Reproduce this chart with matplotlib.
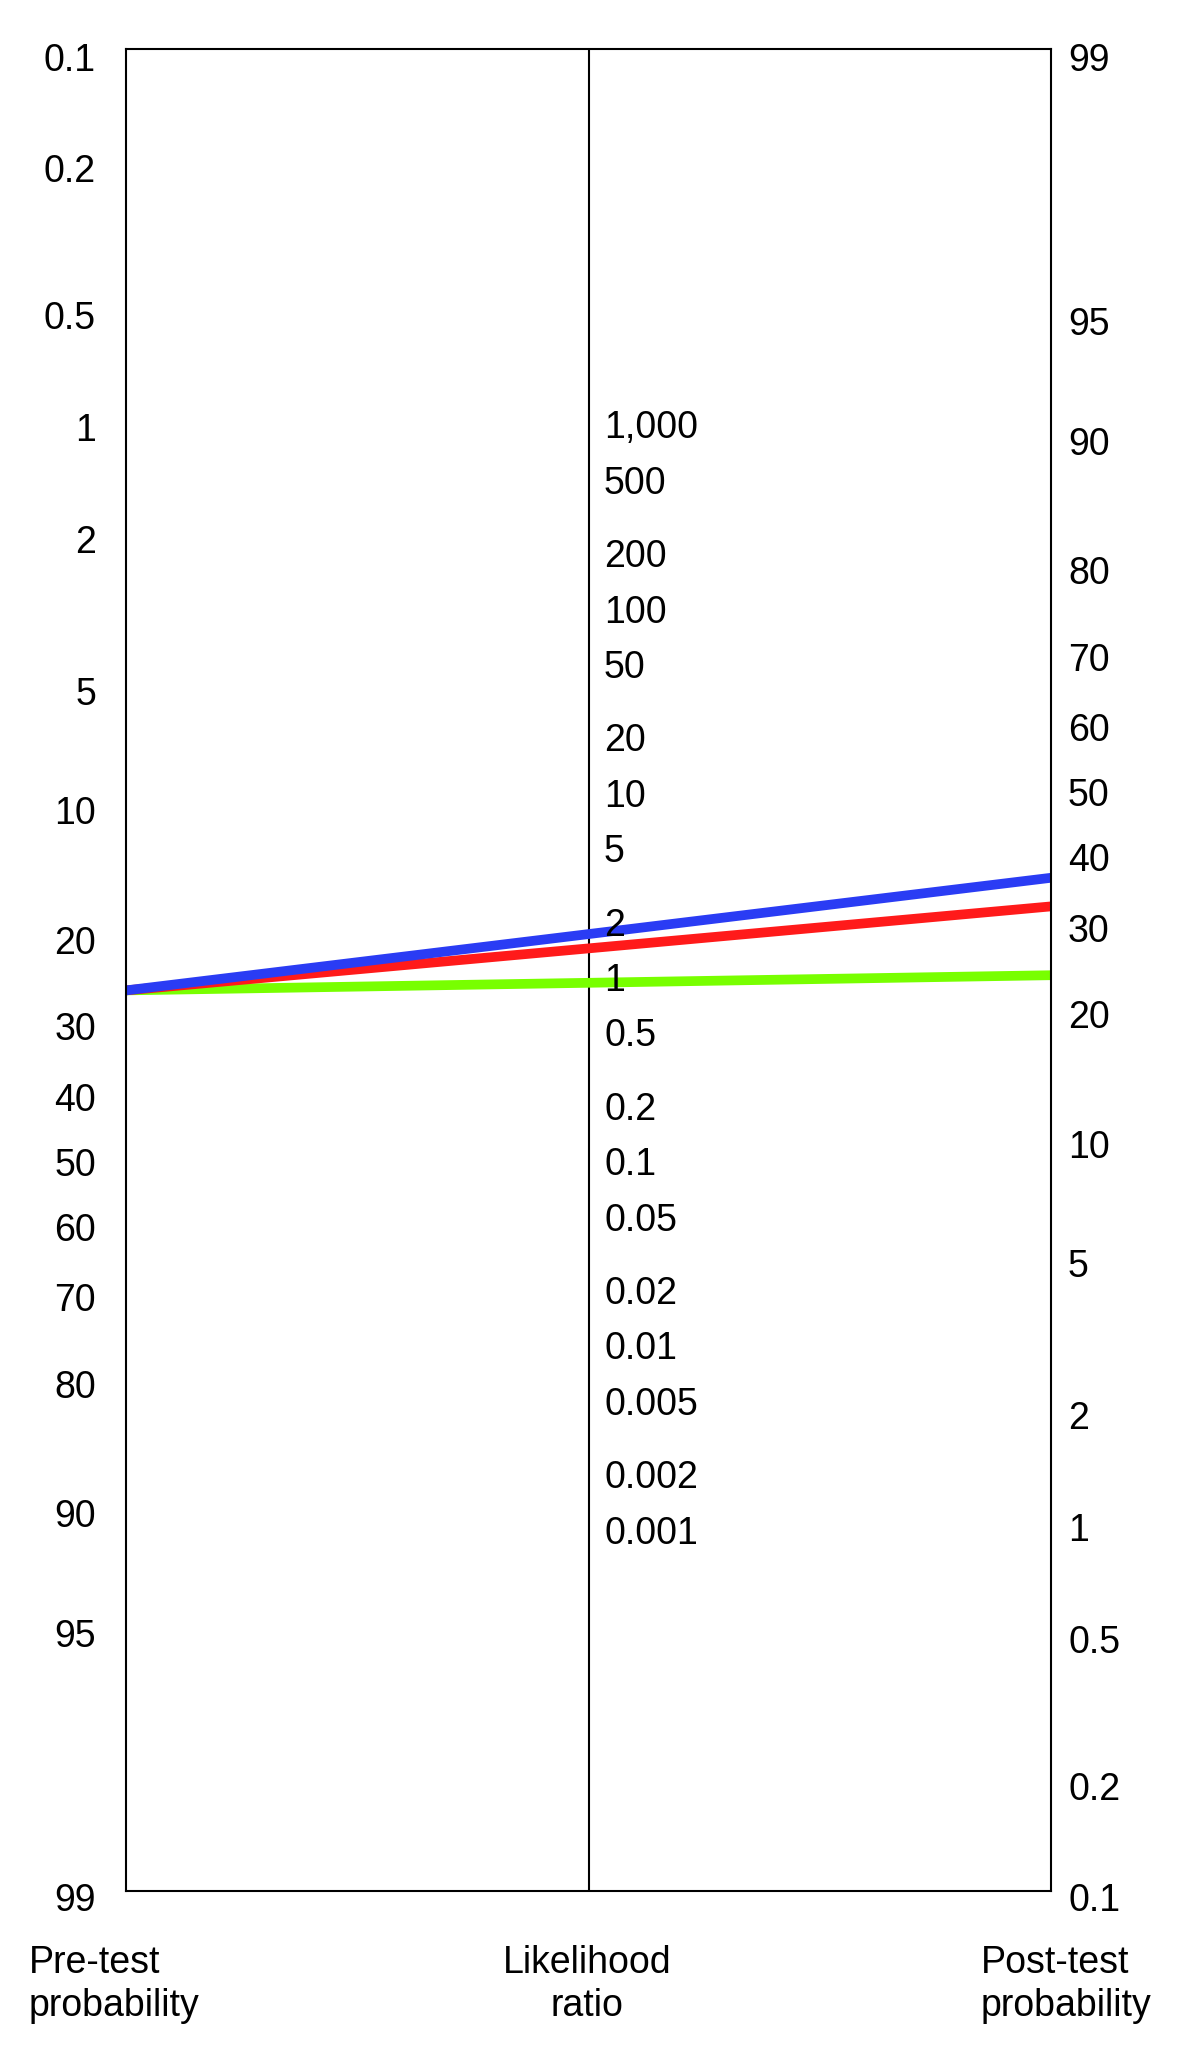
import numpy as np
import matplotlib
matplotlib.use("Agg")
import matplotlib.pyplot as plt
from matplotlib import transforms

plt.rcParams['font.family'] = ['Liberation Sans', 'DejaVu Sans']

# Scales of the nomogram (percent / ratio)
pre_ticks = [0.1, 0.2, 0.5, 1, 2, 5, 10, 20, 30, 40, 50, 60, 70, 80, 90, 95, 99]
post_ticks = [99, 95, 90, 80, 70, 60, 50, 40, 30, 20, 10, 5, 2, 1, 0.5, 0.2, 0.1]
lr_ticks = [1000, 500, 200, 100, 50, 20, 10, 5, 2, 1,
            0.5, 0.2, 0.1, 0.05, 0.02, 0.01, 0.005, 0.002, 0.001]
lr_labels = ['1,000', '500', '200', '100', '50', '20', '10', '5', '2', '1',
             '0.5', '0.2', '0.1', '0.05', '0.02', '0.01', '0.005', '0.002', '0.001']

# Lines: pre-test probability and likelihood ratios
pre_test = 25.5
lr_values = [0.93, 1.43, 1.71]
line_colors = ['#78ff00', '#ff1a1a', '#2a3cf4']


def logit(p):
    p = np.asarray(p, dtype=float) / 100.0
    return np.log(p / (1 - p))


C = logit(0.1) + logit(99)   # so that 99 on the right lines up with 0.1 on the left


def left_y(p):
    return logit(p)


def right_y(p):
    return C - logit(p)


def mid_y(lr):
    return (C - np.log(lr)) / 2


def main():
    W, H = 1200, 2068
    fig = plt.figure(figsize=(W / 100, H / 100), dpi=100)
    ax = fig.add_axes([126 / W, 1 - 1891 / H, 925 / W, 1842 / H])

    ppu = 160.0  # pixels per logit unit
    ax.set_xlim(0, 2)
    ax.set_ylim(logit(99) - 6 / ppu, logit(0.1) - 8 / ppu)
    ax.set_xticks([])
    ax.set_yticks([])
    for s in ax.spines.values():
        s.set_linewidth(1.5)
    ax.axvline(1, color='black', lw=1.5)

    # lines through the nomogram
    for lr, col in zip(lr_values, line_colors):
        post = 100 / (1 + np.exp(-(logit(pre_test) + np.log(lr))))
        ax.plot([0, 2], [left_y(pre_test), right_y(post)], color=col, lw=7,
                solid_capstyle='butt', zorder=2)

    tr = transforms.blended_transform_factory(fig.transFigure, ax.transData)
    fs = 27
    for p in pre_ticks:
        ax.text(96 / W, left_y(p), f"{p:g}", transform=tr, ha='right',
                va='center_baseline', fontsize=fs, clip_on=False)
    for p in post_ticks:
        ax.text(1068 / W, right_y(p), f"{p:g}", transform=tr, ha='left',
                va='center_baseline', fontsize=fs, clip_on=False)
    for lr, lab in zip(lr_ticks, lr_labels):
        ax.text(604 / W, mid_y(lr), lab, transform=tr, ha='left',
                va='center_baseline', fontsize=fs, zorder=5)

    # axis titles
    y1, y2 = 1 - 1973 / H, 1 - 2016 / H
    fig.text(29 / W, y1, "Pre-test", ha='left', va='baseline', fontsize=fs)
    fig.text(29 / W, y2, "probability", ha='left', va='baseline', fontsize=fs)
    fig.text(587 / W, y1, "Likelihood", ha='center', va='baseline', fontsize=fs)
    fig.text(587 / W, y2, "ratio", ha='center', va='baseline', fontsize=fs)
    fig.text(981 / W, y1, "Post-test", ha='left', va='baseline', fontsize=fs)
    fig.text(981 / W, y2, "probability", ha='left', va='baseline', fontsize=fs)

    fig.savefig("out.png", dpi=100)


if __name__ == "__main__":
    main()
